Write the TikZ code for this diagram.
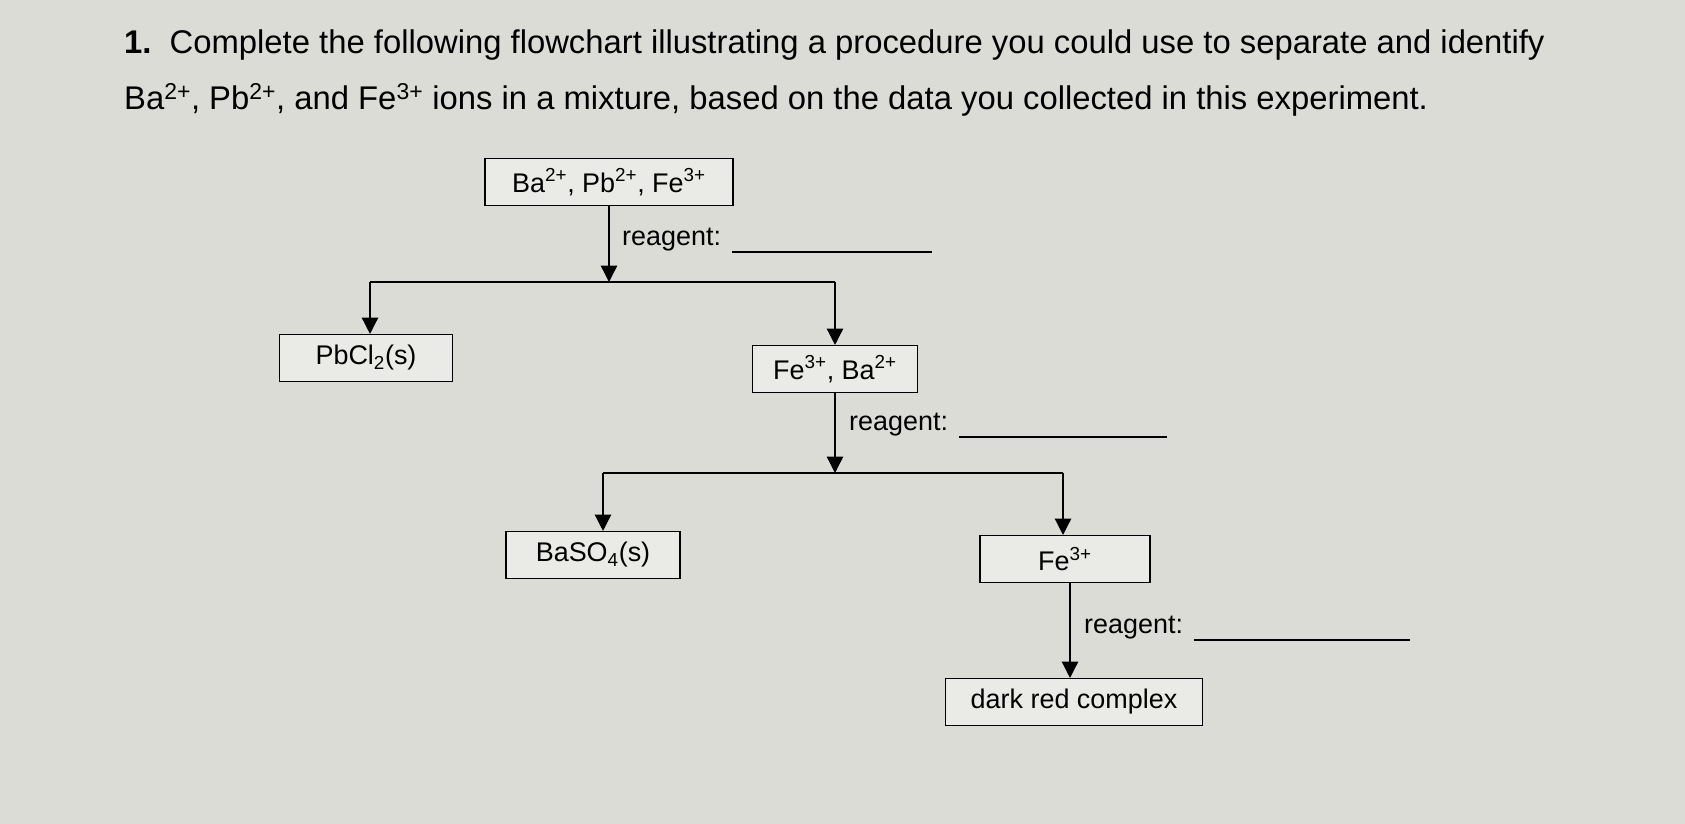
\documentclass[tikz,border=0pt]{standalone}
\usepackage{fontspec}
\setmainfont{Liberation Sans}
\usetikzlibrary{arrows.meta}
\definecolor{paper}{HTML}{DCDCD6}
\newcommand{\sps}[1]{\textsuperscript{#1}}
\newcommand{\sbs}[1]{\textsubscript{#1}}
\tikzset{
  box/.style={draw=black, line width=1.2pt, fill=paper!60!white, minimum height=1.4cm, inner xsep=12pt, font=\fontsize{23}{26}\selectfont},
  arr/.style={line width=1.2pt, -{Triangle[length=14pt,width=14pt]}},
  ln/.style={line width=1.2pt},
  lab/.style={anchor=west, font=\fontsize{23}{26}\selectfont},
}
\begin{document}
\begin{tikzpicture}[x=0.03cm,y=-0.03cm]
\fill[paper] (0,0) rectangle (1685,824);
\useasboundingbox (0,0) rectangle (1685,824);
\node[anchor=west, font=\fontsize{28}{32}\selectfont] (t1) at (120,45) {\textbf{1.}\ \ Complete the following flowchart illustrating a procedure you could use to separate and identify};
\node[anchor=west, font=\fontsize{28}{32}\selectfont] (t2) at (120,100) {Ba\sps{2+}, Pb\sps{2+}, and Fe\sps{3+} ions in a mixture, based on the data you collected in this experiment.};

\node[box, minimum width=248*0.03cm] (a) at (609,182) {Ba\sps{2+}, Pb\sps{2+}, Fe\sps{3+}};
\coordinate (j1) at (609,282);
\coordinate (l1) at (370,282);
\coordinate (r1) at (835,282);
\draw[arr] (a.south) -- (j1);
\node[lab] (r1lab) at (618,240) {reagent:};
\draw[ln] ([xshift=6pt]r1lab.east|-0,252) -- (932,252);
\draw[ln] (l1) -- (r1);
\node[box, minimum width=173*0.03cm] (b) at (366,358) {PbCl\sbs{2}(s)};
\node[box, minimum width=165*0.03cm] (c) at (835,369) {Fe\sps{3+}, Ba\sps{2+}};
\draw[arr] (l1) -- (l1|-b.north);
\draw[arr] (r1) -- (c.north);

\coordinate (j2) at (835,473);
\coordinate (l2) at (603,473);
\coordinate (r2) at (1063,473);
\draw[arr] (c.south) -- (j2);
\node[lab] (r2lab) at (845,425) {reagent:};
\draw[ln] ([xshift=6pt]r2lab.east|-0,437) -- (1167,437);
\draw[ln] (l2) -- (r2);
\node[box, minimum width=174*0.03cm] (d) at (593,555) {BaSO\sbs{4}(s)};
\node[box, minimum width=170*0.03cm] (e) at (1065,559) {Fe\sps{3+}};
\draw[arr] (l2) -- (l2|-d.north);
\draw[arr] (r2) -- (r2|-e.north);

\node[box, minimum width=257*0.03cm] (f) at (1074,702) {dark red complex};
\draw[arr] (1070,583) -- (f.north-|1070,0);
\node[lab] (r3lab) at (1080,628) {reagent:};
\draw[ln] ([xshift=6pt]r3lab.east|-0,640) -- (1410,640);
\end{tikzpicture}
\end{document}
